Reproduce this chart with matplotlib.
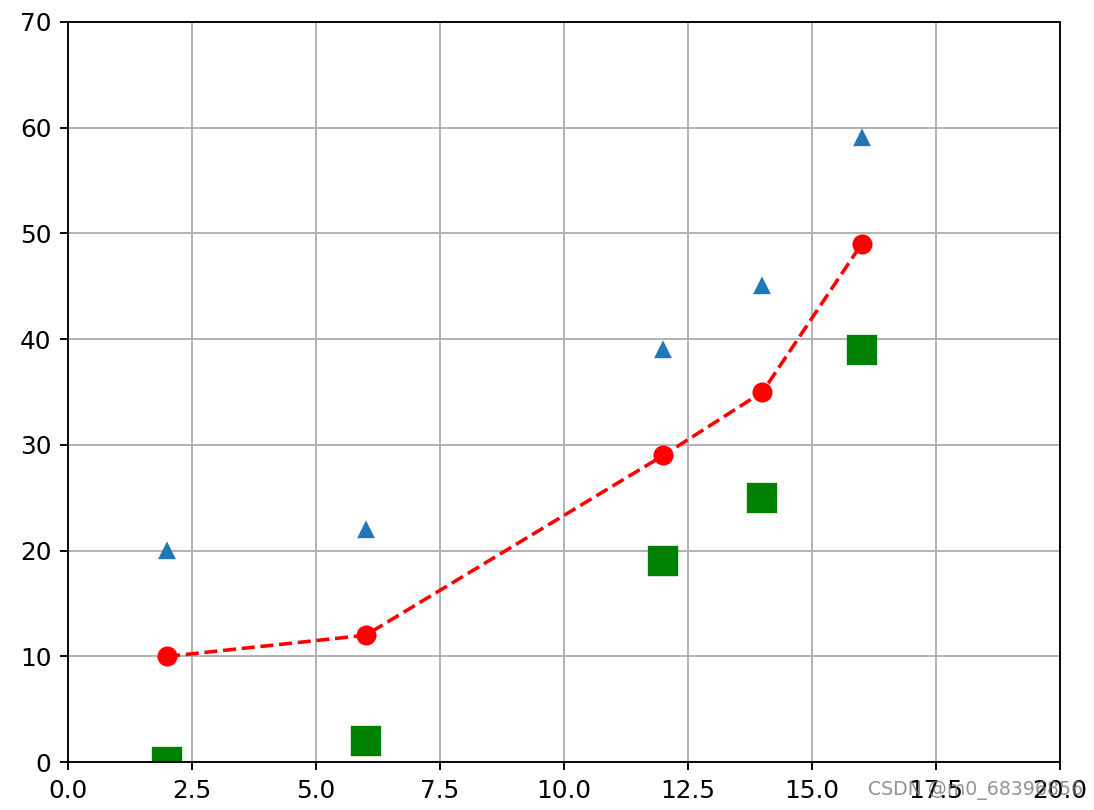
import numpy as np
import matplotlib
matplotlib.use("Agg")
import matplotlib.pyplot as plt

x = [2, 6, 12, 14, 16]
y_mid = [10, 12, 29, 35, 49]
y_up = [20, 22, 39, 45, 59]
y_low = [0, 2, 19, 25, 39]

fig = plt.figure(figsize=(1094 / 170, 810 / 170), dpi=170)
ax = fig.add_subplot(111)
fig.subplots_adjust(left=0.062, right=0.969, top=0.973, bottom=0.059)

ax.plot(x, y_mid, "r--", marker="o", markersize=7.5)
ax.plot(x, y_up, "^", markersize=6)
ax.plot(x, y_low, "gs", markersize=12)

ax.set_xlim(0, 20)
ax.set_ylim(0, 70)
ax.tick_params(labelsize=10.5)
ax.grid(True)

# watermark
fig.text(0.99, 0.012, "CSDN @m0_68396856", ha="right", va="bottom",
         fontsize=8, color="#777777", alpha=0.8)

fig.savefig("out.png", dpi=170)
